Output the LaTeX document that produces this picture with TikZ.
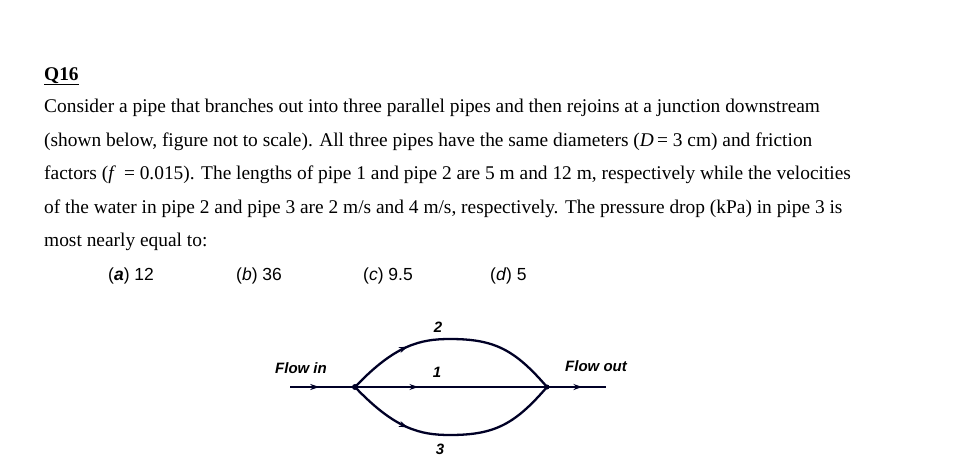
\documentclass[tikz,border=0pt]{standalone}
\usepackage{fontspec}
\setmainfont{Liberation Serif}
\setsansfont{Liberation Sans}
\usetikzlibrary{decorations.markings,arrows.meta}
\begin{document}
\begin{tikzpicture}[x=1pt,y=-1pt,
  txt/.style={anchor=base west,inner sep=0pt,font=\fontsize{19.4}{22}\selectfont},
  opt/.style={anchor=base west,inner sep=0pt,font=\sffamily\fontsize{17.5}{20}\selectfont},
  lbl/.style={inner sep=0pt,font=\sffamily\bfseries\itshape\fontsize{15}{17}\selectfont},
  pipe/.style={line width=2.3pt,draw=black!85!blue},
  mid/.style={postaction={decorate},decoration={markings,mark=at position #1 with {\arrow{Stealth[length=9pt,width=6pt]}}}}]
\useasboundingbox (0,0) rectangle (954,466);
\node[txt] (q) at (44,80) {\textbf{\underline{Q16}}};
\node[txt] (l1) at (44,112) {Consider a pipe that branches out into three parallel pipes and then rejoins at a junction downstream};
\node[txt] (l2) at (44,146) {(shown below, figure not to scale). All three pipes have the same diameters (\textit{D}\,= 3 cm) and friction};
\node[txt] (l3) at (44,179) {factors (\textit{f} \,= 0.015). The lengths of pipe 1 and pipe 2 are 5 m and 12 m, respectively while the velocities};
\node[txt] (l4) at (44,213) {of the water in pipe 2 and pipe 3 are 2 m/s and 4 m/s, respectively. The pressure drop (kPa) in pipe 3 is};
\node[txt] (l5) at (44,246) {most nearly equal to:};
\node[opt] (oa) at (108,280) {(\textbf{\textit{a}}) 12};
\node[opt] (ob) at (236,280) {(\textit{b}) 36};
\node[opt] (oc) at (363,280) {(\textit{c}) 9.5};
\node[opt] (od) at (490,280) {(\textit{d}) 5};
\coordinate (in) at (290,387);
\coordinate (j1) at (355,387);
\coordinate (j2) at (547,387);
\coordinate (out) at (606,387);
\draw[pipe,mid=0.45] (in) -- (j1);
\draw[pipe,mid=0.33] (j1) -- (j2);
\draw[pipe,mid=0.6] (j2) -- (out);
\draw[pipe,mid=0.3] (j1) .. controls (395,345) and (420,339) .. (450,339) .. controls (495,339) and (515,350) .. (j2);
\draw[pipe,mid=0.3] (j1) .. controls (395,429) and (420,435) .. (450,435) .. controls (495,435) and (515,424) .. (j2);
\fill[black!85!blue] (j1) circle (3pt) (j2) circle (2.5pt);
\node[lbl] (n2) at (438,327) {2};
\node[lbl] (n1) at (437,372) {1};
\node[lbl] (n3) at (440,449) {3};
\node[lbl] (fi) at (301,368) {Flow in};
\node[lbl] (fo) at (596,366) {Flow out};
\end{tikzpicture}
\end{document}
